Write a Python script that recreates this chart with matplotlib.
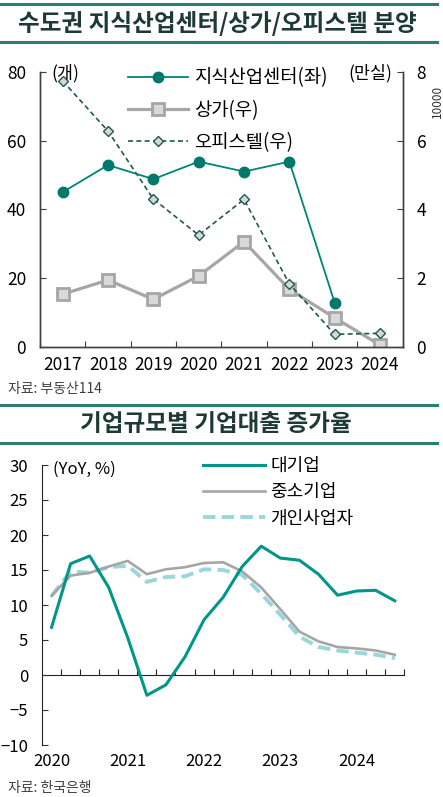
import numpy as np
import matplotlib
matplotlib.use("Agg")
import matplotlib.pyplot as plt
from matplotlib.lines import Line2D

plt.rcParams['font.family'] = ['Noto Sans CJK KR', 'DejaVu Sans']

# ---- top chart data ----
years_top = ['2017', '2018', '2019', '2020', '2021', '2022', '2023', '2024']
knowledge_center = [45.0, 52.9, 48.8, 53.9, 51.0, 53.9, 12.8, np.nan]   # 개, left axis
shops = [1.53, 1.94, 1.38, 2.06, 3.06, 1.67, 0.84, 0.05]               # 만실, right axis
officetel = [7.74, 6.28, 4.30, 3.25, 4.29, 1.83, 0.36, 0.39]           # 만실, right axis

# ---- bottom chart data (quarterly, 2020Q1 ~ 2024Q3) ----
year_labels_bot = ['2020', '2021', '2022', '2023', '2024']
large_firm = [6.8, 15.9, 17.0, 12.5, 5.3, -2.9, -1.4, 2.6, 7.9, 11.1,
              15.5, 18.4, 16.7, 16.4, 14.4, 11.4, 12.0, 12.1, 10.6]
sme = [11.3, 14.2, 14.6, 15.5, 16.3, 14.4, 15.1, 15.4, 16.0, 16.1,
       14.8, 12.5, 9.4, 6.2, 4.8, 4.0, 3.8, 3.5, 2.9]
self_employed = [11.3, 14.8, 14.6, 15.4, 15.6, 13.3, 14.0, 14.1, 15.1, 15.0,
                 14.3, 11.6, 8.6, 5.5, 4.0, 3.5, 3.2, 2.9, 2.4]

TEAL = '#00857a'
TEAL2 = '#00968a'
DKGREEN = '#1f5a4e'
GRAY = '#a6a6a6'
LTEAL = '#9ad7da'
TITLE_C = '#1e3a34'
BAR_C = '#2a7d70'

W, H = 443, 797
fig = plt.figure(figsize=(W / 100, H / 100), dpi=100)


def px(x, y):
    return x / W, 1 - y / H


def title_bar(y_top, y_bot, text, xc):
    for yy in (y_top, y_bot):
        fig.add_artist(Line2D([0, 437 / W], [1 - yy / H] * 2, color=BAR_C, lw=2.2))
    fig.text(xc / W, 1 - (y_top + y_bot) / 2 / H, text, ha='center', va='center',
             fontsize=17, color=TITLE_C, fontweight='bold')


title_bar(4, 42, '수도권 지식산업센터/상가/오피스텔 분양', 217)
title_bar(405, 443, '기업규모별 기업대출 증가율', 216)

# ================= top chart =================
ax = fig.add_axes([40 / W, 1 - 346.7 / H, 362.7 / W, 274.7 / H])
ax2 = ax.twinx()
x = np.arange(len(years_top)) + 0.5

l2, = ax2.plot(x, shops, color=GRAY, lw=2.3, marker='s', ms=8.5,
               mfc='#d9d9d9', mec=GRAY, mew=2, zorder=2, label='상가(우)')
l3, = ax2.plot(x, officetel, color=DKGREEN, lw=1.2, ls=(0, (3, 2)), marker='D', ms=5.5,
               mfc='#d4d9d8', mec=DKGREEN, mew=1, zorder=3, label='오피스텔(우)')
ax.set_zorder(ax2.get_zorder() + 1)
ax.patch.set_visible(False)
l1, = ax.plot(x, knowledge_center, color=TEAL, lw=1.3, marker='o', ms=7.5,
              mfc='#00786c', mec='#00786c', label='지식산업센터(좌)')

ax.set_xlim(0, len(years_top))
ax.set_ylim(0, 80)
ax2.set_ylim(0, 8)
ax.set_yticks([0, 20, 40, 60, 80])
ax2.set_yticks([0, 2, 4, 6, 8])
ax.set_xticks(np.arange(len(years_top) + 1))
ax.set_xticklabels([])
ax.set_xticks(x, minor=True)
ax.set_xticklabels(years_top, minor=True)
ax.tick_params(axis='x', which='major', direction='in', length=4, color='#404040')
ax.tick_params(axis='x', which='minor', length=0, pad=7, labelsize=12.5)
ax.tick_params(axis='y', direction='in', length=4, pad=10, labelsize=12.5, color='#404040')
ax2.tick_params(axis='y', direction='in', length=4, pad=10, labelsize=12.5, color='#404040')
for a in (ax, ax2):
    a.spines['top'].set_visible(False)
    for s in ('left', 'right', 'bottom'):
        a.spines[s].set_color('#404040')
        a.spines[s].set_linewidth(1.0)

ax.text(0.03, 0.995, '(개)', transform=ax.transAxes, ha='left', va='center', fontsize=12.5)
ax.text(0.97, 0.995, '(만실)', transform=ax.transAxes, ha='right', va='center', fontsize=12.5)
# small rotated label sitting at the right edge
fig.text(px(431, 101)[0], px(431, 101)[1], '10000', rotation=90, ha='left', va='center',
         fontsize=8.5, color='#333333')

leg = ax.legend(handles=[l1, l2, l3], loc='upper left',
                bbox_to_anchor=(px(120, 60)[0], px(120, 60)[1]),
                bbox_transform=fig.transFigure, frameon=False, fontsize=13.5,
                handlelength=3.2, handletextpad=0.35, labelspacing=0.6, borderaxespad=0)

fig.text(8 / W, 1 - 389 / H, '자료: 부동산114', ha='left', va='center', fontsize=10, color='#404040')

# ================= bottom chart =================
bx = fig.add_axes([42 / W, 1 - 745 / H, 362.3 / W, 280 / H])
q = np.arange(len(large_firm)) + 0.5
bx.plot(q, large_firm, color=TEAL2, lw=2.2, label='대기업', zorder=3)
bx.plot(q, sme, color=GRAY, lw=1.9, label='중소기업', zorder=2)
bx.plot(q, self_employed, color=LTEAL, lw=2.8, ls=(0, (3.2, 1.6)), label='개인사업자', zorder=1)

bx.set_xlim(0, 19)
bx.set_ylim(-10, 30)
bx.set_yticks(np.arange(-10, 31, 5))
bx.set_xticks(np.arange(len(year_labels_bot)) * 4 + 0.5)
bx.set_xticklabels(year_labels_bot)
bx.tick_params(axis='x', length=0, pad=6, labelsize=12)
bx.tick_params(axis='y', direction='in', length=4, pad=10, labelsize=12, color='#333333')
for s in ('top', 'right', 'bottom'):
    bx.spines[s].set_visible(False)
bx.spines['left'].set_color('#222222')

# zero line with quarterly ticks
zero_ax = bx.secondary_xaxis(0.25)
zero_ax.set_xticks(np.arange(1, 20))
zero_ax.set_xticklabels([])
zero_ax.tick_params(direction='in', length=4, color='#222222')
zero_ax.spines['bottom'].set_color('#222222')

bx.text(0.03, 0.985, '(YoY, %)', transform=bx.transAxes, ha='left', va='center', fontsize=12)
bx.legend(loc='upper left', bbox_to_anchor=(px(196, 450)[0], px(196, 450)[1]),
          bbox_transform=fig.transFigure, frameon=False, fontsize=13,
          handlelength=3.4, handletextpad=0.3, labelspacing=0.45, borderaxespad=0)

fig.text(8 / W, 1 - 788 / H, '자료: 한국은행', ha='left', va='center', fontsize=10, color='#404040')

fig.savefig('out.png', dpi=100)
